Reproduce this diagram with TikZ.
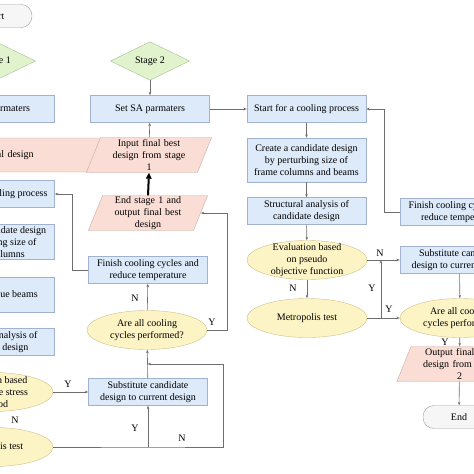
\documentclass[tikz,border=0pt]{standalone}
\usepackage{fontspec}
\setmainfont{Liberation Serif}
\usetikzlibrary{shapes.geometric, arrows.meta, positioning, calc}
\definecolor{procfill}{RGB}{221,234,250}
\definecolor{procdraw}{RGB}{160,178,205}
\definecolor{iofill}{RGB}{250,222,214}
\definecolor{iodraw}{RGB}{200,170,162}
\definecolor{decfill}{RGB}{253,244,198}
\definecolor{decdraw}{RGB}{205,192,140}
\definecolor{stgfill}{RGB}{224,243,204}
\definecolor{stgdraw}{RGB}{165,192,145}
\definecolor{termfill}{RGB}{246,246,246}
\definecolor{termdraw}{RGB}{160,160,160}
\definecolor{linegray}{RGB}{110,110,110}
\tikzset{
  process/.style={draw=procdraw, fill=procfill, minimum width=119pt, minimum height=27pt, align=center, inner sep=1pt},
  io/.style={trapezium, trapezium left angle=68, trapezium right angle=112, draw=iodraw, fill=iofill,
      text width=84pt, align=center, inner xsep=1pt, inner ysep=0pt, minimum height=35pt},
  decide/.style={ellipse, draw=decdraw, fill=decfill, minimum width=120pt, minimum height=39pt,
      inner xsep=0pt, inner ysep=-6pt, align=center},
  stage/.style={diamond, draw=stgdraw, fill=stgfill, minimum width=79pt, minimum height=35pt, inner sep=0pt},
  terminal/.style={draw=termdraw, fill=termfill, rounded corners=11pt, minimum width=74pt, minimum height=23pt},
  flow/.style={draw=linegray, line width=0.6pt, -{Stealth[length=3.5pt,width=2.6pt]}},
  lbl/.style={inner sep=1pt},
}

\begin{document}
\begin{tikzpicture}[x=1pt, y=-1pt, font=\fontsize{10}{12}\selectfont]
  \useasboundingbox (0,0) rectangle (474,474);
  \clip (0,0) rectangle (474,474);
  % stage 1, first column
  \node[terminal] (start) at (-5,16) {Start};
  \node[stage] (stage1) at (-4,61) {Stage 1};
  \node[process] (setSA1) at (-5,109) {Set SA parmaters};
  \node[io, minimum height=34pt] (input1) at (-5,155) {Input initial design};
  \node[process] (cool1) at (-5,194) {Start for a cooling process};
  \node[process, minimum height=35pt] (cand1) at (-5,242) {Create a candidate design\\by perturbing size of\\frame columns};
  \node[process, minimum height=35pt] (beam1) at (-5,295) {Assign unique beams};
  \node[process] (struct1) at (-5,342) {Structural analysis of\\candidate design};
  \node[decide] (eval1) at (-7,392) {Evaluation based\\on ultimate stress\\method};
  \node[decide] (metro1) at (-7,447) {Metropolis test};
  % stage 1, second column
  \node[process] (subst1) at (148,392) {Substitute candidate\\design to current design};
  \node[decide] (all1) at (147,330) {Are all cooling\\cycles performed?};
  \node[process] (finish1) at (148,270) {Finish cooling cycles and\\reduce temperature};
  \node[io] (endst1) at (148,213) {End stage 1 and\\output final best\\design};
  % stage 2
  \node[stage] (stage2) at (150,61) {Stage 2};
  \node[process] (setSA2) at (150,109) {Set SA parmaters};
  \node[io] (input2) at (149,155) {Input final best\\design from stage\\1};
  \node[process] (cool2) at (306.5,109) {Start for a cooling process};
  \node[process, minimum height=44pt] (cand2) at (306.5,160) {Create a candidate design\\by perturbing size of\\frame columns and beams};
  \node[process] (struct2) at (306.5,211) {Structural analysis of\\candidate design};
  \node[decide] (eval2) at (307,260) {Evaluation based\\on pseudo\\objective function};
  \node[decide] (metro2) at (307,318) {Metropolis test};
  \node[process] (finish2) at (459.5,212) {Finish cooling cycles and\\reduce temperature};
  \node[process] (subst2) at (459.5,260) {Substitute candidate\\design to current design};
  \node[decide] (all2) at (460,318) {Are all cooling\\cycles performed?};
  \node[io] (output2) at (459.5,364) {Output final best\\design from stage\\2};
  \node[terminal, minimum width=72pt] (end) at (459,417) {End};

  \foreach \a/\b in {start/stage1, stage1/setSA1, setSA1/input1, input1/cool1, cool1/cand1,
      cand1/beam1, beam1/struct1, struct1/eval1, eval1/metro1, subst1/all1, all1/finish1,
      stage2/setSA2, input2/setSA2, cool2/cand2, cand2/struct2, struct2/eval2, eval2/metro2,
      subst2/all2, all2/output2, output2/end}
    \draw[flow] (\a) -- (\b);
  \draw[flow] (eval1) -- (subst1);
  \coordinate (j1) at (subst1.south |- metro1.east);
  \coordinate (k1) at ($(subst1.north)!0.5!(all1.south)$);
  \draw[flow] (j1) -- (subst1.south);
  \draw[flow] (metro1.east) -- (j1) -- ++(75,0) |- (k1);
  \draw[flow] (all1.east) -- ++(20,0) |- (endst1.east);
  \draw[flow] (finish1.west) -- ++(-16,0) |- (cool1.east);
  \draw[line width=2pt, -{Triangle[length=6pt,width=5.5pt]}] (endst1.north) -- (input2.south);
  \draw[flow] (setSA2) -- (cool2);
  \draw[flow] (eval2) -- (subst2);
  \draw[flow] (metro2) -- (all2);
  \coordinate (j2) at ($(metro2.east)!0.42!(all2.west)$);
  \draw[flow] (j2) -- (j2 |- eval2.east);
  \draw[flow] (finish2.west) -- ++(-16,0) |- (cool2.east);

  \foreach \x/\y/\t [count=\i] in {68/384/Y, 135/428/Y, 182/438/N, 135/298/N, 212/322/Y, 15/420/N,
      293/288/N, 380/253/N, 372/288/Y, 389/309/Y, 445/342/Y}
    \node[lbl] (lab\i) at (\x,\y) {\t};
\end{tikzpicture}
\end{document}
